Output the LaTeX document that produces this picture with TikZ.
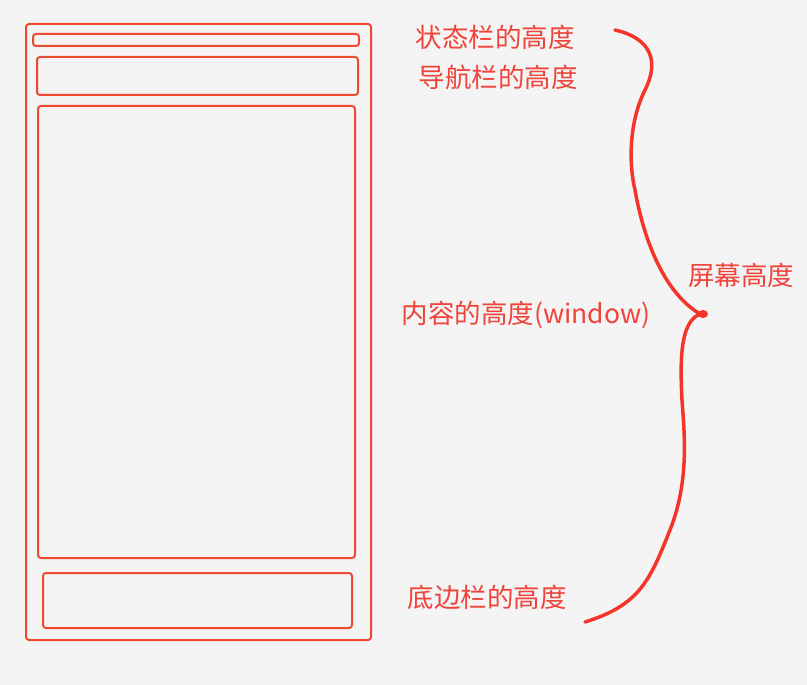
\documentclass[tikz,border=0pt]{standalone}
\usepackage{fontspec}
\setmainfont{Noto Sans CJK SC}
\definecolor{bg}{HTML}{F4F4F4}
\definecolor{rd}{HTML}{EE4A30}
\definecolor{tx}{HTML}{F0443A}
\definecolor{cv}{HTML}{F5352A}
\begin{document}
\begin{tikzpicture}[x=1pt,y=-1pt,
  box/.style={draw=rd,line width=2pt,rounded corners=3pt},
  lbl/.style={text=tx,font=\fontsize{26.5}{29}\selectfont,inner sep=0pt}]
\fill[bg] (0,0) rectangle (807,685);
\useasboundingbox (0,0) rectangle (807,685);
\draw[box] (26,24) rectangle (371,640);
\draw[box] (33,34) rectangle (359,46);
\draw[box] (37,57) rectangle (358,95);
\draw[box] (38,106) rectangle (355,558);
\draw[box] (43,573) rectangle (352,628);
\node[lbl] (a) at (495,37) {状态栏的高度};
\node[lbl] (b) at (498,77) {导航栏的高度};
\node[lbl] (c) at (526,315) {内容的高度(window)};
\node[lbl] (d) at (487,597) {底边栏的高度};
\node[lbl] (e) at (741,275) {屏幕高度};
\draw[cv,line width=3.5pt,line cap=round]
  (615,30) .. controls (650,38) and (660,60) .. (645,90)
  .. controls (630,120) and (628,160) .. (635,190)
  .. controls (642,230) and (660,290) .. (700,314)
  .. controls (680,322) and (680,360) .. (682,400)
  .. controls (684,430) and (690,480) .. (670,530)
  .. controls (650,580) and (640,605) .. (585,622);
\fill[cv] (703,314) ellipse (5 and 4);
\end{tikzpicture}
\end{document}
